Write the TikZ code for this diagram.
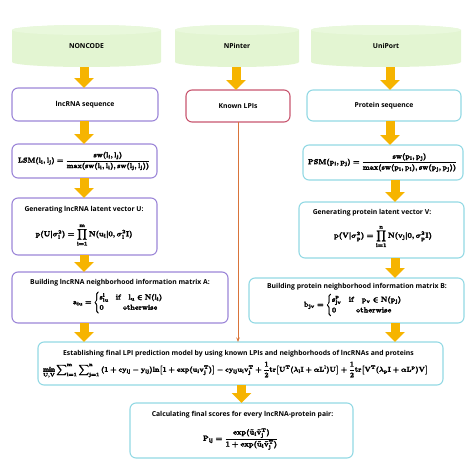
\documentclass[tikz,border=0pt]{standalone}
\usepackage{amsmath}
\usepackage{graphicx}
\usepackage{fontspec}
\setmainfont{Liberation Serif}
\setsansfont{Open Sans}
\usetikzlibrary{arrows.meta}
\definecolor{cylgreen}{HTML}{E3F5D2}
\definecolor{cyltop}{HTML}{E9F8DC}
\definecolor{purp}{HTML}{9C86D8}
\definecolor{crim}{HTML}{C8566F}
\definecolor{cyanb}{HTML}{93D9E4}
\definecolor{arrowor}{HTML}{F6B400}
\definecolor{lpiline}{HTML}{D9743A}
\newcommand{\B}[1]{\mathbf{#1}}
\newcommand{\heavyink}{\special{pdf:literal direct 2 Tr 0.3 w}}
\begin{document}
\begin{tikzpicture}[x=1pt,y=-1pt,
  lbl/.style={font=\fontsize{6.8}{8}\selectfont\sffamily\bfseries, inner sep=0pt},
  cylnode/.style={lbl, minimum height=42pt, outer sep=0pt},
  bx/.style={draw, rounded corners=6pt, line width=1.1pt, fill=white, outer sep=0pt, font=\fontsize{6.8}{8}\selectfont\sffamily\bfseries, inner sep=0pt},
  pbox/.style={bx, draw=purp},
  rbox/.style={bx, draw=crim},
  cbox/.style={bx, draw=cyanb},
  fml/.style={inner sep=0pt, execute at begin node=\heavyink},
  barrow/.style={draw=arrowor, line width=9pt, -{Triangle[width=19pt,length=10pt]}},
  thinarrow/.style={draw=lpiline, line width=0.8pt, -{Stealth[length=4.5pt,width=3.5pt]}}
]
\useasboundingbox (0,0) rectangle (474,474);
% cylinders
\fill[cylgreen] (12,30) -- (12,62) arc[start angle=180,end angle=360,x radius=74.5pt,y radius=5pt] -- (161,30) arc[start angle=0,end angle=180,x radius=74.5pt,y radius=5pt] -- cycle;
\fill[cyltop] (86.5,30) ellipse[x radius=74.5pt,y radius=5pt];
\fill[cylgreen] (175,30) -- (175,62) arc[start angle=180,end angle=360,x radius=62pt,y radius=5pt] -- (299,30) arc[start angle=0,end angle=180,x radius=62pt,y radius=5pt] -- cycle;
\fill[cyltop] (237,30) ellipse[x radius=62pt,y radius=5pt];
\fill[cylgreen] (311,30) -- (311,62) arc[start angle=180,end angle=360,x radius=75pt,y radius=5pt] -- (461,30) arc[start angle=0,end angle=180,x radius=75pt,y radius=5pt] -- cycle;
\fill[cyltop] (386,30) ellipse[x radius=75pt,y radius=5pt];
\node[cylnode, minimum width=149pt] (noncode) at (86.5,46) {NONCODE};
\node[cylnode, minimum width=124pt] (npinter) at (237,46) {NPinter};
\node[cylnode, minimum width=150pt] (uniport) at (386,46) {UniPort};
% coordinates for arrow columns
\coordinate (cL) at (84,0);
\coordinate (cM) at (236,0);
\coordinate (cR) at (390,0);
\coordinate (cR2) at (395,0);
% first row boxes
\node[pbox, minimum width=146pt, minimum height=33pt] (lseq) at (85,104.5) {lncRNA sequence};
\node[rbox, minimum width=104pt, minimum height=32pt] (lpi) at (238,106) {Known LPIs};
\node[cbox, minimum width=154pt, minimum height=31pt] (pseq) at (384,105.5) {Protein sequence};
% LSM / PSM
\node[pbox, minimum width=145pt, minimum height=34pt] (lsm) at (84.5,161) {};
\node[fml] (lsmf) at (84,161) {\resizebox{132pt}{!}{\boldmath$\B{LSM(l_i,l_j)}=\dfrac{\B{sw(l_i,l_j)}}{\B{max(sw(l_i,l_i),sw(l_j,l_j))}}$}};
\node[cbox, minimum width=160pt, minimum height=35pt] (psm) at (383,162.5) {};
\node[fml] (psmf) at (382.5,162.5) {\resizebox{149pt}{!}{\boldmath$\B{PSM(p_i,p_j)}=\dfrac{\B{sw(p_i,p_j)}}{\B{max(sw(p_i,p_i),sw(p_j,p_j))}}$}};
% latent vectors
\node[pbox, minimum width=145pt, minimum height=57pt] (genu) at (84.5,226.5) {};
\node[lbl] (genut) at (84,210) {Generating lncRNA latent vector U:};
\node[fml] (genuf) at (84,235) {\resizebox{97pt}{!}{\boldmath$\B{p(U|}\boldsymbol{\sigma}_{\B l}^{\B 2}\B{)}=\displaystyle\prod_{\B{i=1}}^{\B m}\B{N(u_i|0,}\,\boldsymbol{\sigma}_{\B l}^{\B 2}\B{I)}$}};
\node[cbox, minimum width=165pt, minimum height=56pt] (genv) at (381.5,230) {};
\node[lbl] (genvt) at (372,213) {Generating protein latent vector V:};
\node[fml] (genvf) at (383,236.5) {\resizebox{98pt}{!}{\boldmath$\B{p(V|}\boldsymbol{\sigma}_{\B p}^{\B 2}\B{)}=\displaystyle\prod_{\B{i=1}}^{\B n}\B{N(v_j|0,}\,\boldsymbol{\sigma}_{\B p}^{\B 2}\B{I)}$}};
% neighborhood matrices
\node[pbox, minimum width=216pt, minimum height=51pt] (bda) at (120,297.5) {};
\node[lbl] (bdat) at (120,283) {Building lncRNA neighborhood information matrix A:};
\node[fml] (bdaf) at (118,302.5) {\resizebox{90pt}{!}{\boldmath$\B{a_{iu}}=\begin{cases}\B{s^l_{iu}} & \B{if}\quad \B{l_u}\in\B{N(l_i)}\\ \B{0} & \quad\B{otherwise}\end{cases}$}};
\node[cbox, minimum width=215pt, minimum height=45pt] (bdb) at (356.5,300.5) {};
\node[lbl] (bdbt) at (357,287) {Building protein neighborhood information matrix B:};
\node[fml] (bdbf) at (353,305) {\resizebox{98pt}{!}{\boldmath$\B{b_{jv}}=\begin{cases}\B{s^p_{jv}} & \B{if}\quad \B{p_v}\in\B{N(p_j)}\\ \B{0} & \quad\B{otherwise}\end{cases}$}};
% final model
\node[cbox, minimum width=405pt, minimum height=43pt] (fin) at (240.5,363.5) {};
\node[lbl] (fint) at (238.5,354) {Establishing final LPI prediction model by using known LPIs and neighborhoods of lncRNAs and proteins};
\node[fml] (finf) at (235.5,370) {\resizebox{385pt}{!}{\boldmath$\displaystyle\min_{\B{U,V}}\sum\nolimits_{\B{i=1}}^{\B m}\sum\nolimits_{\B{j=1}}^{\B n}\B{(1+cy_{ij}-y_{ij})ln}\big[\B{1+exp(u_iv_j^T)}\big]-\B{cy_{ij}u_iv_j^T}+\frac{\B1}{\B2}\B{tr}\big[\B{U^T(}\boldsymbol{\lambda}_{\B l}\B{I}+\boldsymbol{\alpha}\B{L^l)U}\big]+\frac{\B1}{\B2}\B{tr}\big[\B{V^T(}\boldsymbol{\lambda}_{\B p}\B{I}+\boldsymbol{\alpha}\B{L^p)V}\big]$}};
% final scores
\node[cbox, minimum width=223pt, minimum height=55pt] (calc) at (241.5,430.5) {};
\node[lbl] (calct) at (242.5,415) {Calculating final scores for every lncRNA-protein pair:};
\node[fml] (calcf) at (240.5,439) {\resizebox{75pt}{!}{\boldmath$\B{P_{ij}}=\dfrac{\B{exp(}\tilde{\B u}_{\B i}\tilde{\B v}_{\B j}^{\B T}\B{)}}{\B{1+exp(}\tilde{\B u}_{\B i}\tilde{\B v}_{\B j}^{\B T}\B{)}}$}};
% connectors
\draw[barrow] (noncode.south -| cL) -- (lseq.north -| cL);
\draw[barrow] (npinter.south -| cM) -- (lpi.north -| cM);
\draw[barrow] (uniport.south -| cR) -- (pseq.north -| cR);
\draw[barrow] (lseq.south -| cL) -- (lsm.north -| cL);
\draw[barrow] (pseq.south -| cR) -- (psm.north -| cR);
\draw[barrow] (lsm.south -| cL) -- (genu.north -| cL);
\draw[barrow] (psm.south -| cR2) -- (genv.north -| cR2);
\draw[barrow] (genu.south -| cL) -- (bda.north -| cL);
\draw[barrow] (genv.south -| cR2) -- (bdb.north -| cR2);
\draw[barrow] (bda.south -| cL) -- (fin.north -| cL);
\draw[barrow] (bdb.south -| cR2) -- (fin.north -| cR2);
\draw[thinarrow] (lpi.south) -- (fin.north -| lpi.south);
\draw[barrow] (fin.south -| calc.north) -- (calc.north);
\end{tikzpicture}
\end{document}
